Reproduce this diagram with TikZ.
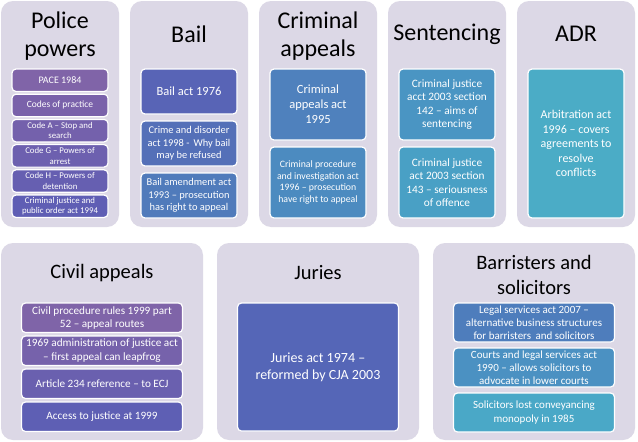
\documentclass[tikz,border=0pt]{standalone}
\usepackage{fontspec}
\setmainfont{Carlito}
\definecolor{panelc}{RGB}{220,216,230}
\definecolor{pA}{RGB}{128,100,168}
\definecolor{pB}{RGB}{122,98,170}
\definecolor{pC}{RGB}{116,97,172}
\definecolor{pD}{RGB}{109,96,175}
\definecolor{pE}{RGB}{102,95,177}
\definecolor{pF}{RGB}{95,94,180}
\definecolor{bA}{RGB}{88,100,182}
\definecolor{bB}{RGB}{84,112,184}
\definecolor{bC}{RGB}{80,123,187}
\definecolor{cA}{RGB}{79,129,189}
\definecolor{cB}{RGB}{76,139,192}
\definecolor{sA}{RGB}{74,149,195}
\definecolor{sB}{RGB}{73,160,197}
\definecolor{aA}{RGB}{75,172,198}
\definecolor{vA}{RGB}{127,100,168}
\definecolor{vB}{RGB}{118,98,171}
\definecolor{vC}{RGB}{106,96,175}
\definecolor{vD}{RGB}{94,95,180}
\definecolor{jA}{RGB}{85,102,183}
\definecolor{rA}{RGB}{78,125,188}
\definecolor{rB}{RGB}{75,145,194}
\definecolor{rC}{RGB}{74,168,199}
\newcommand\fs[1]{\fontsize{#1}{\the\dimexpr #1pt*6/5\relax}\selectfont}
\begin{document}
\begin{tikzpicture}[x=1pt,y=-1pt,
  panel/.style={fill=panelc,draw=none,rounded corners=12pt,inner sep=0pt},
  item/.style={draw=white,line width=1.2pt,rounded corners=4pt,text=white,align=center,inner sep=1pt},
  ptitle/.style={text=black,align=center,inner sep=0pt}]
\useasboundingbox[fill=white] (0,0) rectangle (638,442);
% top panels
\node[panel,minimum width=118pt,minimum height=226pt] (police) at (60,114) {};
\node[panel,minimum width=118pt,minimum height=226pt] (bail) at (189,114) {};
\node[panel,minimum width=118pt,minimum height=226pt] (crim) at (318,114) {};
\node[panel,minimum width=118pt,minimum height=226pt] (sent) at (447,114) {};
\node[panel,minimum width=118pt,minimum height=226pt] (adr) at (576,114) {};
% bottom panels
\node[panel,minimum width=202pt,minimum height=197pt] (civil) at (102,341.5) {};
\node[panel,minimum width=202pt,minimum height=197pt] (juries) at (318,341.5) {};
\node[panel,minimum width=202pt,minimum height=197pt] (barr) at (534,341.5) {};
% titles
\node[ptitle,font=\fs{24}] (tpolice) at (60,36) {Police\\powers};
\node[ptitle,font=\fs{24}] (tbail) at (189,34) {Bail};
\node[ptitle,font=\fs{24}] (tcrim) at (318,36) {Criminal\\appeals};
\node[ptitle,font=\fs{24}] (tsent) at (447,34) {Sentencing};
\node[ptitle,font=\fs{24}] (tadr) at (576,34) {ADR};
\node[ptitle,font=\fs{20.5}] (tcivil) at (102,273) {Civil appeals};
\node[ptitle,font=\fs{20.5}] (tjuries) at (318,273) {Juries};
\node[ptitle,font=\fs{20.5}] (tbarr) at (534,275) {Barristers and\\solicitors};
% police items
\begin{scope}[every node/.append style={item,minimum width=96pt,minimum height=22.5pt,font=\fs{8.8}}]
\node[fill=pA,font=\fs{10}] (p1) at (60,80.25) {PACE 1984};
\node[fill=pB,font=\fs{9.5}] (p2) at (60,105.45) {Codes of practice};
\node[fill=pC] (p3) at (60,130.65) {Code A -- Stop and\\search};
\node[fill=pD] (p4) at (60,155.85) {Code G -- Powers of\\arrest};
\node[fill=pE] (p5) at (60,181.05) {Code H -- Powers of\\detention};
\node[fill=pF] (p6) at (60,206.25) {Criminal justice and\\public order act 1994};
\end{scope}
% bail items
\begin{scope}[every node/.append style={item,minimum width=96pt,minimum height=45pt,font=\fs{10.4}}]
\node[fill=bA,font=\fs{12.5}] (b1) at (189,91.5) {Bail act 1976};
\node[fill=bB] (b2) at (189,143.5) {Crime and disorder\\act 1998 -\, Why bail\\may be refused};
\node[fill=bC] (b3) at (189,195.5) {Bail amendment act\\1993 -- prosecution\\has right to appeal};
\end{scope}
% criminal appeals items
\begin{scope}[every node/.append style={item,minimum width=96pt,minimum height=71pt}]
\node[fill=cA,font=\fs{12.5}] (c1) at (318,104.5) {Criminal\\appeals act\\1995};
\node[fill=cB,font=\fs{9.8}] (c2) at (318,182.5) {Criminal procedure\\and investigation act\\1996 -- prosecution\\have right to appeal};
\end{scope}
% sentencing items
\begin{scope}[every node/.append style={item,minimum width=96pt,minimum height=71pt,font=\fs{11.3}}]
\node[fill=sA] (s1) at (447,104.5) {Criminal justice\\acct 2003 section\\142 -- aims of\\sentencing};
\node[fill=sB] (s2) at (447,182.5) {Criminal justice\\act 2003 section\\143 -- seriousness\\of offence};
\end{scope}
% ADR
\node[item,fill=aA,minimum width=96pt,minimum height=149pt,font=\fs{12}] (a1) at (576,143.5) {Arbitration act\\1996 -- covers\\agreements to\\resolve\\conflicts};
% civil items
\begin{scope}[every node/.append style={item,minimum width=161pt,minimum height=29.5pt,font=\fs{11.2}}]
\node[fill=vA] (v1) at (102,317.75) {Civil procedure rules 1999 part\\52 -- appeal routes};
\node[fill=vB] (v2) at (102,350.75) {1969 administration of justice act\\-- first appeal can leapfrog};
\node[fill=vC] (v3) at (102,383.75) {Article 234 reference -- to ECJ};
\node[fill=vD] (v4) at (102,416.75) {Access to justice at 1999};
\end{scope}
% juries
\node[item,fill=jA,minimum width=161pt,minimum height=128pt,font=\fs{14}] (j1) at (318,367) {Juries act 1974 --\\reformed by CJA 2003};
% barristers items
\begin{scope}[every node/.append style={item,minimum width=161pt,minimum height=39pt,font=\fs{11}}]
\node[fill=rA] (r1) at (534,322.5) {Legal services act 2007 --\\alternative business structures\\for barristers\, and solicitors};
\node[fill=rB] (r2) at (534,367.5) {Courts and legal services act\\1990 -- allows solicitors to\\advocate in lower courts};
\node[fill=rC] (r3) at (534,412.5) {Solicitors lost conveyancing\\monopoly in 1985};
\end{scope}
\end{tikzpicture}
\end{document}
